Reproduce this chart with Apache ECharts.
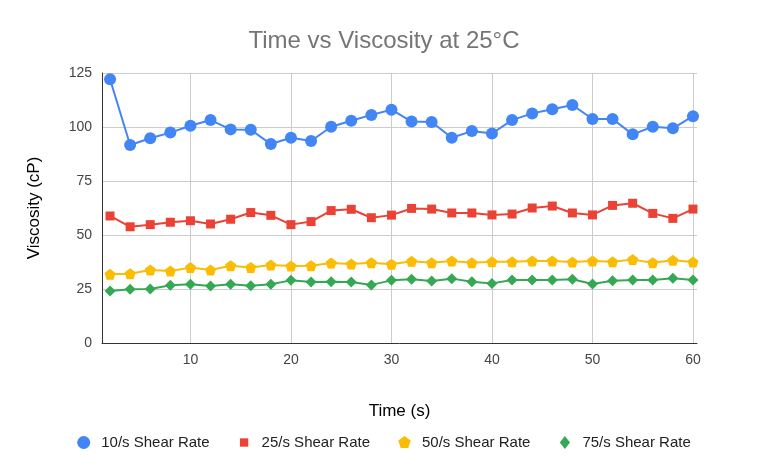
<!DOCTYPE html>
<html lang="en" style="height: 100%">
    <head>
        <meta charset="utf-8" />
    </head>
    <body style="height: 100%; margin: 0">
        <div id="container" style="width: 768px; height: 475px"></div>

        <script
            type="text/javascript"
            src="https://fastly.jsdelivr.net/npm/echarts@6/dist/echarts.min.js"
        ></script>

        <script type="text/javascript">
            var time = [2, 4, 6, 8, 10, 12, 14, 16, 18, 20, 22, 24, 26, 28, 30,
                32, 34, 36, 38, 40, 42, 44, 46, 48, 50, 52, 54, 56, 58, 60];
            var rate10 = [122.1, 91.7, 94.8, 97.4, 100.6, 103.2, 98.9, 98.7, 92.1, 95,
                93.5, 100.1, 102.9, 105.6, 108, 102.5, 102.3, 95, 98.1, 97,
                103.2, 106.3, 108.2, 110.2, 103.7, 103.7, 96.6, 100.1, 99.4, 105];
            var rate25 = [58.8, 53.8, 54.8, 55.9, 56.6, 55.1, 57.3, 60.4, 59.1, 54.8,
                56.2, 61.3, 61.9, 58, 59.2, 62.3, 62, 60.2, 60.2, 59.3,
                59.7, 62.5, 63.4, 60.2, 59.3, 63.7, 64.7, 60, 57.7, 62];
            var rate50 = [31.8, 32.1, 33.8, 33.3, 34.9, 33.8, 35.8, 35, 36.1, 35.6,
                35.8, 37, 36.6, 37.2, 36.5, 37.8, 37.2, 38, 37.2, 37.6,
                37.6, 38, 38, 37.5, 38, 37.6, 38.6, 37.2, 38.3, 37.5];
            var rate75 = [24.1, 24.9, 25, 26.7, 27.2, 26.4, 27.2, 26.5, 27.2, 29,
                28.2, 28.4, 28.2, 26.9, 29, 29.5, 28.7, 29.8, 28.4, 27.6,
                29.2, 29.2, 29.2, 29.5, 27.3, 28.8, 29.2, 29.2, 30, 29.2];
            var xTicks = [10, 20, 30, 40, 50, 60];

            var names = ['10/s Shear Rate', '25/s Shear Rate', '50/s Shear Rate', '75/s Shear Rate'];
            var colors = ['#4285F4', '#EA4335', '#FBBC04', '#34A853'];
            var pentagon = 'path://M0,-10 L9.5,-3.1 L5.9,8.1 L-5.9,8.1 L-9.5,-3.1 Z';
            var symbols = ['circle', 'rect', pentagon, 'diamond'];
            var sizes = [12, 9, 11, 11];
            // legend icons: stray moveTo points pad the box so smaller marks stay small
            var legendIcons = [
                'circle',
                'path://M-7,-7 M7,7 M-4.5,-4.5 L4.5,-4.5 L4.5,4.5 L-4.5,4.5 Z',
                'path://M-7,-7 M7,7 M0,-7 L6.7,-2.1 L4.1,5.8 L-4.1,5.8 L-6.7,-2.1 Z',
                'path://M-7,-7 M7,7 M0,-7 L5.5,0 L0,7 L-5.5,0 Z',
            ];

            function pairs(vals) {
                return vals.map(function (v, i) {
                    return [time[i], v];
                });
            }

            var dom = document.getElementById('container');
            var myChart = echarts.init(dom, null, { renderer: 'canvas' });

            var option = {
                animation: false,
                backgroundColor: '#fff',
                textStyle: { fontFamily: 'Liberation Sans, Arial, sans-serif' },
                title: {
                    text: 'Time vs Viscosity at 25°C',
                    left: 'center',
                    top: 24,
                    textStyle: { color: '#757575', fontSize: 24, fontWeight: 'normal' },
                },
                legend: {
                    bottom: 20,
                    left: 'center',
                    itemGap: 28,
                    itemWidth: 13,
                    itemHeight: 13,
                    textStyle: { color: '#222', fontSize: 15, padding: [0, 0, 0, 6] },
                    data: names.map(function (n, i) {
                        return { name: n, icon: legendIcons[i] };
                    }),
                },
                grid: { left: 102, right: 71, top: 73, bottom: 132 },
                xAxis: {
                    type: 'value',
                    min: 1.2,
                    max: 60.4,
                    name: 'Time (s)',
                    nameLocation: 'middle',
                    nameGap: 60,
                    nameTextStyle: { color: '#000', fontSize: 17 },
                    axisLine: { lineStyle: { color: '#333', width: 1 } },
                    axisTick: { show: false, customValues: xTicks },
                    axisLabel: { customValues: xTicks, color: '#444', fontSize: 14, margin: 10 },
                    splitLine: { show: true, lineStyle: { color: '#ccc', width: 1 } },
                },
                yAxis: {
                    type: 'value',
                    min: 0,
                    max: 125,
                    interval: 25,
                    name: 'Viscosity (cP)',
                    nameLocation: 'middle',
                    nameGap: 59,
                    nameTextStyle: { color: '#000', fontSize: 17 },
                    axisLine: { show: true, lineStyle: { color: '#333', width: 1 } },
                    axisTick: { show: false },
                    axisLabel: { color: '#444', fontSize: 14, margin: 10 },
                    splitLine: { lineStyle: { color: '#ccc', width: 1 } },
                },
                series: [rate10, rate25, rate50, rate75].map(function (vals, i) {
                    return {
                        name: names[i],
                        type: 'line',
                        data: pairs(vals),
                        symbol: symbols[i],
                        symbolSize: sizes[i],
                        showAllSymbol: true,
                        color: colors[i],
                        lineStyle: { width: 2 },
                        itemStyle: { color: colors[i] },
                    };
                }),
            };

            myChart.setOption(option);
        </script>
    </body>
</html>
